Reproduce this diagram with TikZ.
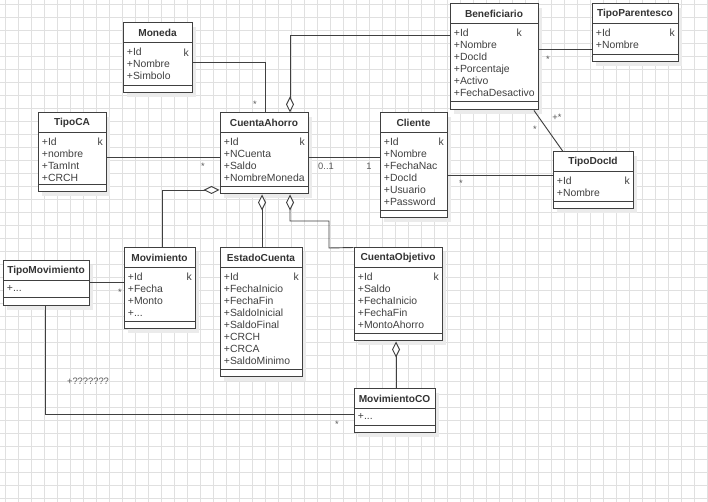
\documentclass[tikz,border=0pt]{standalone}
\usepackage{fontspec}
\setmainfont{Liberation Sans}
\usetikzlibrary{arrows.meta}
\newcommand\umlbox[9]{%
  % #1 name #2 left #3 top #4 right #5 bottom #6 header bottom #7 sep #8 title #9 attrs
  \fill[shadowc] (#2+4,#3+4) rectangle (#4+4,#5+4);
  \node[box, minimum width={(#4-#2)*0.75pt}, minimum height={(#5-#3)*0.75pt}] (#1) at ({(#2+#4)/2},{(#3+#5)/2}) {};
  \draw[boxline] (#2,#6) -- (#4,#6) (#2,#7) -- (#4,#7);
  \node[title] (#1-t) at ({(#2+#4)/2},{(#3+#6)/2}) {#8};
  \node[attrs, anchor=north west] (#1-a) at (#2+1,#6+3) {#9};
}
\tikzset{
  box/.style={draw=black!75, line width=0.75pt, fill=white, inner sep=0pt},
  boxline/.style={draw=black!75, line width=0.75pt},
  title/.style={font=\fontsize{7.6}{9}\selectfont\bfseries, text=black!80, inner sep=0pt},
  attrs/.style={font=\fontsize{7.8}{9}\selectfont, text=black!75, align=left, inner xsep=2pt, inner ysep=1pt},
  key/.style={font=\fontsize{7.8}{9}\selectfont, text=black!75, anchor=east, inner sep=0pt},
  mult/.style={font=\fontsize{7}{8}\selectfont, text=black!65, inner sep=0pt},
  conn/.style={draw=black!75, line width=0.7pt},
  agg/.style={conn, {Diamond[open, length=12pt, width=6pt, fill=white]}-},
  shadowc/.style={fill=black!8},
}
\begin{document}
\begin{tikzpicture}[x=0.75pt, y=-0.75pt]
\useasboundingbox (0,0) rectangle (708,502);
\fill[white] (0,0) rectangle (708,502);
\foreach \i in {0,...,54} {\draw[black!12, line width=0.4pt] (\i*13+5,0) -- (\i*13+5,502);}
\foreach \j in {0,...,38} {\draw[black!12, line width=0.4pt] (0,\j*13+4) -- (708,\j*13+4);}

\umlbox{mon}{123}{23}{192}{93}{43}{86}{Moneda}{+Id\\+Nombre\\+Simbolo}
\umlbox{tca}{38}{113}{106}{192}{133}{185}{TipoCA}{+Id\\+nombre\\+TamInt\\+CRCH}
\umlbox{ca}{220}{113}{308}{194}{133}{187}{CuentaAhorro}{+Id\\+NCuenta\\+Saldo\\+NombreMoneda}
\umlbox{cli}{380}{113}{447}{218}{133}{211}{Cliente}{+Id\\+Nombre\\+FechaNac\\+DocId\\+Usuario\\+Password}
\umlbox{ben}{450}{4}{538}{110}{24}{102}{Beneficiario}{+Id\\+Nombre\\+DocId\\+Porcentaje\\+Activo\\+FechaDesactivo}
\umlbox{tp}{592}{4}{678}{62}{24}{55}{TipoParentesco}{+Id\\+Nombre}
\umlbox{tdi}{553}{152}{633}{209}{172}{202}{TipoDocId}{+Id\\+Nombre}
\umlbox{tm}{3}{261}{89}{306}{281}{298}{TipoMovimiento}{+...}
\umlbox{mov}{124}{248}{195}{329}{268}{322}{Movimiento}{+Id\\+Fecha\\+Monto\\+...}
\umlbox{ec}{220}{248}{302}{377}{268}{370}{EstadoCuenta}{+Id\\+FechaInicio\\+FechaFin\\+SaldoInicial\\+SaldoFinal\\+CRCH\\+CRCA\\+SaldoMinimo}
\umlbox{co}{354}{248}{442}{341}{268}{334}{CuentaObjetivo}{+Id\\+Saldo\\+FechaInicio\\+FechaFin\\+MontoAhorro}
\umlbox{mco}{354}{389}{435}{433}{409}{426}{MovimientoCO}{+...}

\foreach \n/\x/\y in {mon/189/53, tca/103/142, ca/305/142, cli/444/142, ben/522/33, tp/675/33, tdi/630/181, mov/192/277, ec/299/277, co/439/277} {\node[key] at (\x,\y) {k};}

% associations
\draw[conn] (mon.east |- 0,62) -| (ca.north -| 265,0);
\node[mult] at (255,104) {*};
\draw[agg] (ca.north -| 290,0) |- (ben.west |- 0,35);
\draw[conn] (tca.east |- 0,157) -- (ca.west |- 0,157);
\node[mult] at (203,166) {*};
\draw[conn] (ca.east |- 0,157) -- (cli.west |- 0,157);
\node[mult] at (326,166) {0..1};
\node[mult] at (369,166) {1};
\draw[conn] (cli.east |- 0,175) -- (tdi.west |- 0,175);
\node[mult] at (461,183) {*};
\draw[conn] (ben.east |- 0,49) -- (tp.west |- 0,49);
\node[mult] at (548,59) {*};
\draw[conn] (ben.south -| 534,0) -- (tdi.north -| 563,0);
\node[mult] at (535,129) {*};
\node[mult] at (557,117) {+*};
\draw[agg] (ca.west |- 0,190) -| (mov.north -| 162,0);
\draw[agg] (ca.south -| 262,0) -- (ec.north -| 262,0);
\draw[agg] (ca.south -| 290,0) -- (290,221) -| (329,248) -- (co.north west);
\draw[agg] (co.south -| 396,0) -- (mco.north -| 396,0);
\draw[conn] (tm.east |- 0,282) -- (mov.west |- 0,282);
\node[mult] at (120,292) {*};
\draw[conn] (tm.south -| 45,0) |- (mco.west |- 0,414);
\node[mult] at (88,381) {+???????};
\node[mult] at (337,424) {*};
\end{tikzpicture}
\end{document}
